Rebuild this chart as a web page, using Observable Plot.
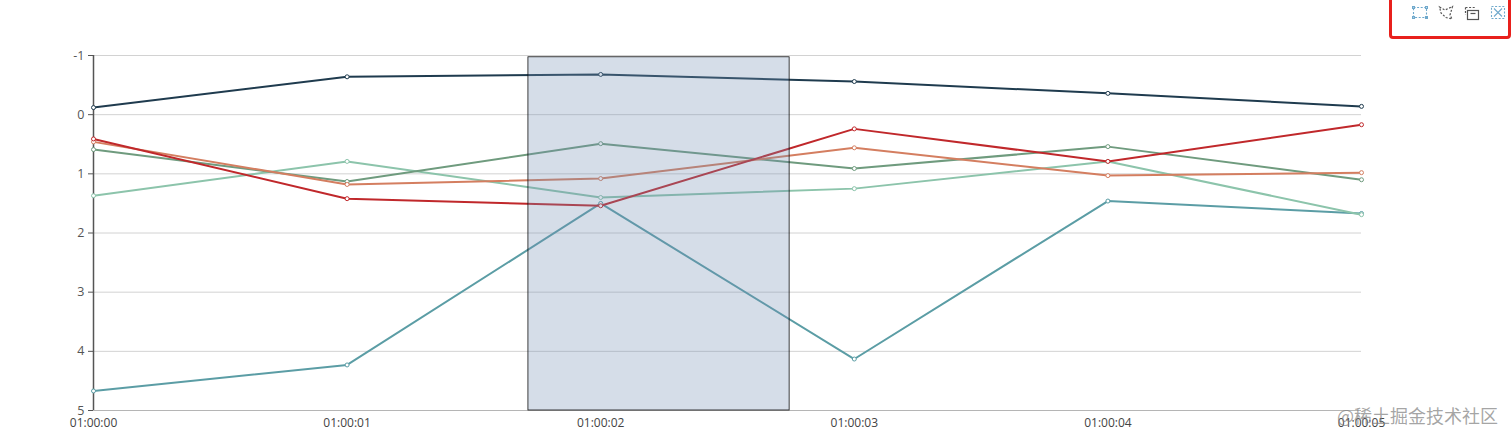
<!DOCTYPE html>
<html><head><meta charset="utf-8">
<script src="https://cdn.jsdelivr.net/npm/d3@7"></script>
<script src="https://cdn.jsdelivr.net/npm/@observablehq/plot@0.6"></script>
<style>
html,body{margin:0;padding:0;background:#fff;overflow:hidden}
#wrap{position:relative;width:1512px;height:441px;overflow:hidden}
#wrap svg.plot{display:block;position:absolute;left:0;top:0}
#box{position:absolute;left:1389px;top:-4px;width:116px;height:37px;border:3px solid #e8201c;border-radius:4px}
.ic{position:absolute;top:5px;width:16px;height:16px}
#wm{position:absolute;left:1337px;top:402px;font:18px "Noto Sans CJK SC",sans-serif;color:rgba(130,130,130,.72);white-space:nowrap}
</style></head><body><div id="wrap">
<div id="box"></div>
<svg class="ic" style="left:1412px" viewBox="0 0 16 16" fill="none" stroke="#6fa9cc" stroke-width="1.1"><rect x="1.5" y="2.5" width="13" height="10" stroke-dasharray="2 1.6"/><path d="M0.5 1.5h2v2h-2zM13.5 1.5h2v2h-2zM0.5 11.5h2v2h-2zM13.5 11.5h2v2h-2z"/></svg>
<svg class="ic" style="left:1438px" viewBox="0 0 16 16" fill="none" stroke="#555" stroke-width="1.2"><path d="M1.5 2 L7 5 L14.5 1.5 L12 10 L14 14 L8 12.5 L3 8 Z" stroke-dasharray="2 1.6"/></svg>
<svg class="ic" style="left:1464px;top:6px" viewBox="0 0 16 16" fill="none" stroke="#555" stroke-width="1.2"><path d="M1.5 1.5H11M1.5 1.5V9" stroke-dasharray="2 1.6"/><rect x="3.5" y="4.5" width="11" height="9"/><path d="M6.5 7.5H11.5"/></svg>
<svg class="ic" style="left:1490px" viewBox="0 0 16 16" fill="none" stroke="#6fa9cc" stroke-width="1.1"><rect x="1.5" y="1.5" width="13" height="12" stroke-dasharray="2 1.6"/><path d="M4 3.5 L12 11.5 M12 3.5 L4 11.5"/></svg>
<div id="wm">@稀土掘金技术社区</div>
</div>
<script>
const times = ["01:00:00","01:00:01","01:00:02","01:00:03","01:00:04","01:00:05"];
const navy = [-0.12,-0.64,-0.68,-0.56,-0.36,-0.14];
const red = [0.41,1.42,1.54,0.24,0.79,0.17];
const orange = [0.46,1.18,1.08,0.56,1.03,0.98];
const green = [0.59,1.13,0.49,0.91,0.54,1.10];
const mint = [1.37,0.79,1.40,1.25,0.79,1.69];
const teal = [4.67,4.23,1.50,4.13,1.46,1.67];
const seriesList = [
  {values: teal, color:"#5b9da5"},
  {values: mint, color:"#8cc4ab"},
  {values: green, color:"#6f9b7e"},
  {values: orange, color:"#d47e60"},
  {values: red, color:"#c0282b"},
  {values: navy, color:"#1f3b4e"}
];
const yTicks = [-1,0,1,2,3,4,5];
const brush = [{x1:1.715,x2:2.745,y1:-0.97,y2:5}];
const idx = times.map((_,i)=>i);
const rows = s => s.values.map((v,i)=>({i,v}));
const marks = [
  Plot.gridY(yTicks,{stroke:"#d2d2d2",strokeOpacity:1}),
  Plot.ruleY([5],{stroke:"#b5b5b5"}),
  Plot.axisY({ticks:yTicks,tickSize:5,tickPadding:4,fontSize:12.5,label:null,tickFormat:d=>String(d),stroke:"#555",color:"#555"}),
  Plot.ruleX([0],{stroke:"#555",strokeWidth:1.5}),
  Plot.axisX({ticks:idx,tickSize:0,tickPadding:8,fontSize:12,label:null,tickFormat:i=>times[i],color:"#444"}),
  ...seriesList.flatMap(s=>[
    Plot.line(rows(s),{x:"i",y:"v",stroke:s.color,strokeWidth:2}),
    Plot.dot(rows(s),{x:"i",y:"v",r:2,fill:"#fff",stroke:s.color,strokeWidth:1})
  ]),
  Plot.rect(brush,{x1:"x1",x2:"x2",y1:"y1",y2:"y2",fill:"rgb(116,142,180)",fillOpacity:0.3,stroke:"#111",strokeOpacity:1,strokeWidth:0.8})
];
const chart = Plot.plot({
  width:1512,height:441,marginLeft:93,marginRight:151,marginTop:55,marginBottom:31,
  style:{fontFamily:"'Open Sans','Noto Sans',sans-serif",background:"transparent"},
  x:{type:"linear",domain:[0,5],range:[93,1361]},
  y:{domain:[-1,5],range:[55,410]},
  marks
});
document.getElementById("wrap").prepend(chart);
</script></body></html>
